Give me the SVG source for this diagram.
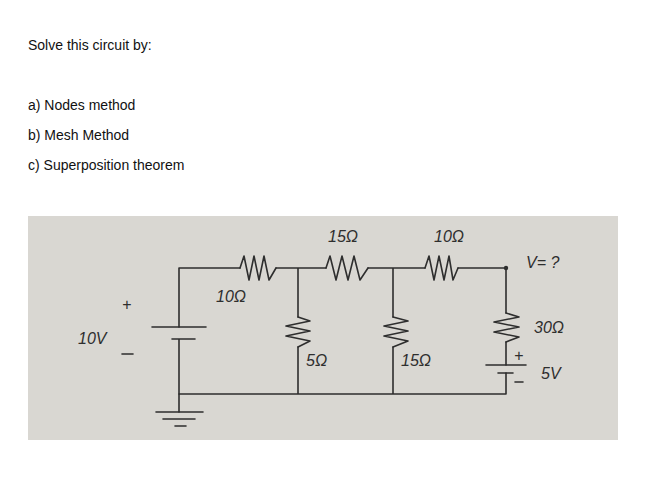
<svg xmlns="http://www.w3.org/2000/svg" width="666" height="484" viewBox="0 0 666 484">
<style>
.t{font-family:"Liberation Sans",Arial,sans-serif;font-size:14px;fill:#111}
.w{fill:none;stroke:#2e2e2e;stroke-width:1.6;stroke-linejoin:round;stroke-linecap:round}
.h{font-family:"Liberation Sans",Arial,sans-serif;font-style:italic;font-size:16px;fill:#2e2e2e}
</style>
<rect width="666" height="484" fill="#fff"/>
<text class="t" x="28" y="50">Solve this circuit by:</text>
<text class="t" x="28" y="110">a) Nodes method</text>
<text class="t" x="28" y="140">b) Mesh Method</text>
<text class="t" x="28" y="170">c) Superposition theorem</text>
<rect x="28" y="216" width="590" height="224" fill="#d9d7d2"/>
<g id="connectors">
<path class="w" d="M179,327 V268 H240 M276,268 H326 M368,268 H425 M458,268 H506 V313 M298,268 V317 M298,347 V394 M393,268 V317 M393,347 V394 M506,342 V365 M506,373 V394 H179 V412"/>
</g>
<g id="v10">
<path class="w" d="M152,327 H206 M172,339 H195 M179,339 V394"/>
<text class="h" x="78" y="344">10V</text>
<text class="h" x="122" y="310">+</text>
<path class="w" d="M122,354 H133"/>
</g>
<g id="gnd"><path class="w" d="M156,412 H203 M163,419 H195 M175,426 H186"/></g>
<g id="r10a"><path class="w" d="M240,268 L244,256 L249,280 L254,256 L259,280 L264,256 L269,280 L276,268"/><text class="h" x="216" y="302">10Ω</text></g>
<g id="r15a"><path class="w" d="M326,268 L330,256 L336,280 L342,256 L348,280 L354,256 L360,280 L368,268"/><text class="h" x="328" y="242">15Ω</text></g>
<g id="r10b"><path class="w" d="M425,268 L429,256 L434,280 L439,256 L444,280 L449,256 L453,280 L458,268"/><text class="h" x="434" y="242">10Ω</text></g>
<g id="r5"><path class="w" d="M298,317 L310,321 L286,326 L310,331 L286,336 L310,341 L298,347"/><text class="h" x="306" y="366">5Ω</text></g>
<g id="r15b"><path class="w" d="M393,317 L408,321 L384,326 L408,331 L384,336 L408,341 L393,347"/><text class="h" x="401" y="366">15Ω</text></g>
<g id="r30"><path class="w" d="M506,313 L519,317 L494,322 L519,327 L494,332 L519,337 L506,342"/><text class="h" x="534" y="333">30Ω</text></g>
<g id="v5"><path class="w" d="M486,365 H526 M498,373 H513 M515,382 H523"/><text class="h" x="514" y="361">+</text><text class="h" x="541" y="379">5V</text></g>
<g id="vout"><circle cx="506" cy="268" r="2.2" fill="#2e2e2e"/><text class="h" x="526" y="268" font-size="18">V= ?</text></g>
</svg>
